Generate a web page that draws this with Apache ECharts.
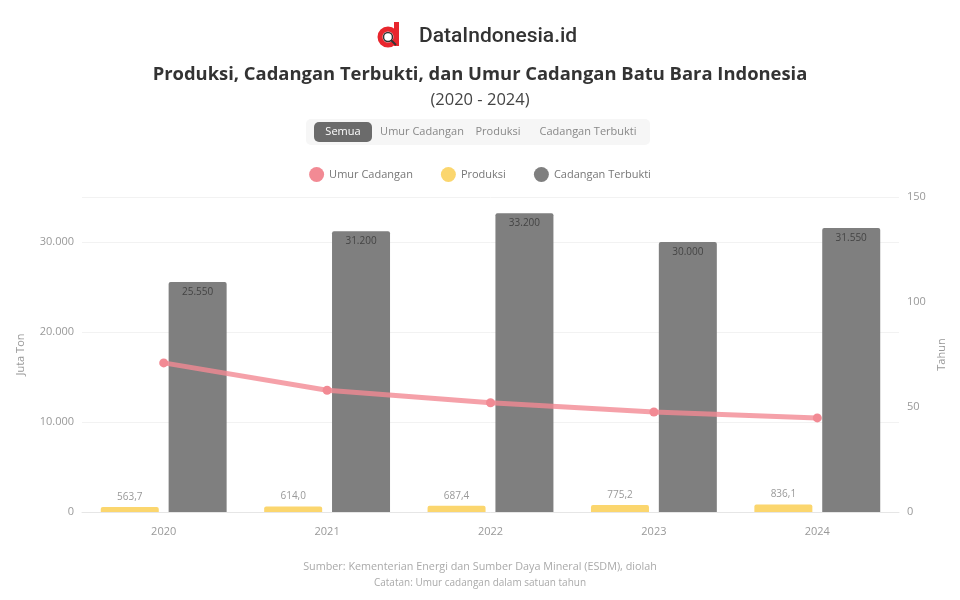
<!DOCTYPE html>
<html>
<head>
<meta charset="utf-8">
<script src="https://cdn.jsdelivr.net/npm/echarts@6.0.0/dist/echarts.min.js"></script>
<style>
html,body{margin:0;padding:0;background:#fff;}
#main{width:960px;height:600px;}
</style>
</head>
<body>
<div id="main"></div>
<script>
const years = ['2020', '2021', '2022', '2023', '2024'];
const produksi = [563.7, 614.0, 687.4, 775.2, 836.1];
const cadanganTerbukti = [25550, 31200, 33200, 30000, 31550];
const umurCadangan = [71, 58, 52, 47.6, 44.8];
const leftTicks = [0, 10000, 20000, 30000];
const rightTicks = [0, 50, 100, 150];
const seriesNames = ['Umur Cadangan', 'Produksi', 'Cadangan Terbukti'];

const FONT = '"Open Sans", "Noto Sans", sans-serif';
function fmt(v, d) {
  return v.toLocaleString('id-ID', {minimumFractionDigits: d, maximumFractionDigits: d});
}

const chart = echarts.init(document.getElementById('main'), null, {renderer: 'canvas'});
const option = {
  backgroundColor: '#ffffff',
  textStyle: {fontFamily: FONT},
  title: [
    {text: 'DataIndonesia.id', left: 414, top: 21, textStyle: {fontFamily: 'Roboto, sans-serif', fontSize: 21, fontWeight: 500, color: '#333'}},
    {text: 'Produksi, Cadangan Terbukti, dan Umur Cadangan Batu Bara Indonesia', left: 'center', top: 61,
      textStyle: {fontFamily: FONT, fontSize: 18.4, fontWeight: 'bold', color: '#333'}},
    {text: '(2020 - 2024)', left: 'center', top: 87, textStyle: {fontFamily: FONT, fontSize: 16.5, fontWeight: 'normal', color: '#444'}},
    {text: 'Sumber: Kementerian Energi dan Sumber Daya Mineral (ESDM), diolah', left: 'center', top: 556,
      textStyle: {fontFamily: FONT, fontSize: 10.8, fontWeight: 'normal', color: '#aaa'}},
    {text: 'Catatan: Umur cadangan dalam satuan tahun', left: 'center', top: 573,
      textStyle: {fontFamily: FONT, fontSize: 10, fontWeight: 'normal', color: '#aaa'}}
  ],
  graphic: [
    // logo
    {type: 'circle', shape: {cx: 388, cy: 37, r: 8}, style: {fill: 'none', stroke: '#e8262d', lineWidth: 5}},
    {type: 'rect', shape: {x: 394, y: 22, width: 5, height: 24}, style: {fill: '#e8262d'}},
    {type: 'circle', shape: {cx: 388, cy: 37, r: 4.5}, style: {fill: '#fff', stroke: '#333', lineWidth: 1.5}},
    {type: 'line', shape: {x1: 391, y1: 40, x2: 396, y2: 45}, style: {stroke: '#333', lineWidth: 2}},
    // filter tabs
    {type: 'rect', shape: {x: 306, y: 119, width: 344, height: 26, r: 5}, style: {fill: '#f6f6f6'}},
    {type: 'rect', shape: {x: 314, y: 122, width: 58, height: 20, r: 5}, style: {fill: '#6b6b6b'}},
    {type: 'text', x: 343, y: 132, style: {text: 'Semua', fill: '#fff', font: '11px ' + FONT, align: 'center', verticalAlign: 'middle'}},
    {type: 'text', x: 422, y: 132, style: {text: seriesNames[0], fill: '#888', font: '11px ' + FONT, align: 'center', verticalAlign: 'middle'}},
    {type: 'text', x: 498, y: 132, style: {text: seriesNames[1], fill: '#888', font: '11px ' + FONT, align: 'center', verticalAlign: 'middle'}},
    {type: 'text', x: 588, y: 132, style: {text: seriesNames[2], fill: '#888', font: '11px ' + FONT, align: 'center', verticalAlign: 'middle'}}
  ],
  legend: {
    data: seriesNames,
    top: 162, left: 'center',
    icon: 'circle', itemWidth: 15, itemHeight: 15, itemGap: 28,
    textStyle: {fontFamily: FONT, fontSize: 11, color: '#777'}
  },
  grid: {left: 82, right: 61, top: 197, bottom: 88},
  xAxis: {
    type: 'category', data: years,
    axisLine: {show: true, lineStyle: {color: '#e6e6e6'}},
    axisTick: {show: false},
    axisLabel: {color: '#999', fontSize: 11, margin: 14, fontFamily: FONT}
  },
  yAxis: [
    {
      type: 'value', min: 0, max: 35000, interval: 10000,
      name: 'Juta Ton', nameLocation: 'middle', nameGap: 56, nameRotate: 90,
      nameTextStyle: {color: '#999', fontSize: 11, fontFamily: FONT},
      axisLabel: {color: '#999', fontSize: 11, showMaxLabel: false, fontFamily: FONT,
        formatter: v => leftTicks.includes(v) ? fmt(v, 0) : ''},
      splitLine: {show: true, lineStyle: {color: '#f2f2f2'}},
      axisLine: {show: false}, axisTick: {show: false}
    },
    {
      type: 'value', min: 0, max: 150, interval: 50,
      name: 'Tahun', nameLocation: 'middle', nameGap: 36, nameRotate: 90,
      nameTextStyle: {color: '#999', fontSize: 11, fontFamily: FONT},
      axisLabel: {color: '#999', fontSize: 11, fontFamily: FONT,
        formatter: v => rightTicks.includes(v) ? String(v) : ''},
      splitLine: {show: false}, axisLine: {show: false}, axisTick: {show: false}
    }
  ],
  series: [
    {
      name: seriesNames[1], type: 'bar', data: produksi, yAxisIndex: 0,
      barWidth: 58, barGap: '17%',
      itemStyle: {color: '#fbd66e', borderRadius: [2, 2, 0, 0]},
      label: {show: true, position: 'top', color: '#999', fontSize: 10, fontFamily: FONT, formatter: p => fmt(p.value, 1)}
    },
    {
      name: seriesNames[2], type: 'bar', data: cadanganTerbukti, yAxisIndex: 0,
      barWidth: 58,
      itemStyle: {color: '#7f7f7f', borderRadius: [2, 2, 0, 0]},
      label: {show: true, position: 'insideTop', color: '#444', fontSize: 10, fontFamily: FONT, formatter: p => fmt(p.value, 0)}
    },
    {
      name: seriesNames[0], type: 'line', data: umurCadangan, yAxisIndex: 1, z: 5,
      symbol: 'circle', symbolSize: 9,
      itemStyle: {color: '#f28a94'},
      lineStyle: {color: '#f28a94', width: 5, opacity: 0.8}
    }
  ]
};
chart.setOption(option);
</script>
</body>
</html>
